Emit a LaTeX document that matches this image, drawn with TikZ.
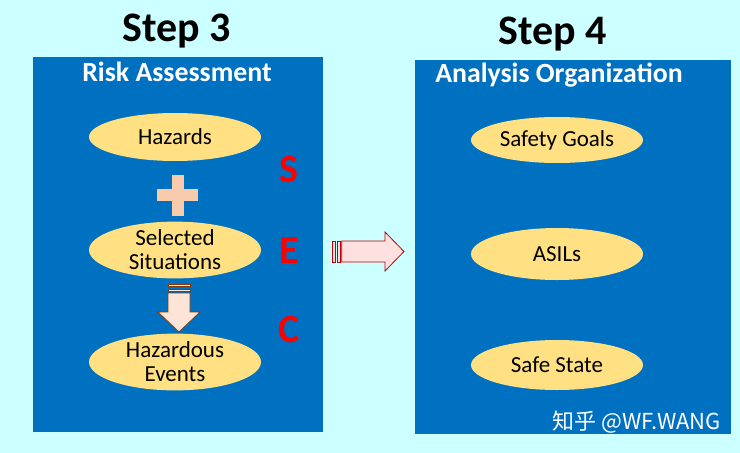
\documentclass[tikz,border=0pt]{standalone}
\usepackage{fontspec}
\setmainfont{Carlito}
\newfontfamily\cjkfont{Noto Sans CJK SC}
\usetikzlibrary{shapes.geometric}
\definecolor{bgcyan}{HTML}{CCFFFF}
\definecolor{panelblue}{HTML}{0070C0}
\definecolor{ovalyellow}{HTML}{FFE183}
\definecolor{peach}{HTML}{F8CBAD}
\definecolor{downfill}{HTML}{FCE4D6}
\definecolor{downedge}{HTML}{843C0C}
\definecolor{rightfill}{HTML}{FFE0E0}
\definecolor{rightedge}{HTML}{C00000}

\begin{document}
\begin{tikzpicture}[x=1pt,y=-1pt,
  oval/.style={ellipse, fill=ovalyellow, minimum width=172pt, minimum height=48pt,
    inner sep=0pt, align=center, font=\fontsize{23}{24}\selectfont},
  steptitle/.style={font=\fontsize{42}{42}\selectfont\bfseries},
  paneltitle/.style={font=\fontsize{27.8}{28}\selectfont\bfseries, text=white},
  letter/.style={font=\fontsize{40}{40}\selectfont\bfseries, text=red}]

  % background and panels
  \fill[bgcyan] (0,0) rectangle (740,453);
  \fill[panelblue] (33,57) rectangle (323,432);
  \fill[panelblue] (415,60) rectangle (731,434);

  % step 3
  \node[steptitle] (step3) at (177,31) {Step 3};
  \node[paneltitle] (risk) at (177,72) {Risk Assessment};
  \node[oval] (hazards) at (175,137) {Hazards};
  \node[oval, minimum height=52pt] (situations) at (175,250) {Selected\\Situations};
  \node[oval, minimum height=52pt] (events) at (175,362) {Hazardous\\Events};
  \node[letter] (sev) at (289,170) {S};
  \node[letter] (expo) at (289,251) {E};
  \node[letter] (ctrl) at (289,330) {C};

  % plus sign
  \coordinate (plus) at (177.5,195);
  \fill[peach] (plus) ++(-20.5,-6) rectangle ++(41,12);
  \fill[peach] (plus) ++(-6,-20.5) rectangle ++(12,41);

  % down arrow
  \filldraw[fill=downfill, draw=downedge, line width=0.8pt]
    (168,293) -- (190,293) -- (190,312) -- (200,312) -- (179,332)
    -- (158,312) -- (168,312) -- cycle;
  \filldraw[fill=downfill, draw=downedge, line width=0.8pt] (168,284) rectangle (190,286.5);
  \filldraw[fill=downfill, draw=downedge, line width=0.8pt] (168,289) rectangle (190,291.5);

  % right arrow
  \filldraw[fill=rightfill, draw=rightedge, line width=0.8pt]
    (341.7,241) -- (385,241) -- (385,232) -- (404,251.5) -- (385,271)
    -- (385,262) -- (341.7,262) -- cycle;
  \filldraw[fill=rightfill, draw=rightedge, line width=0.8pt] (332.3,241) rectangle (335,262);
  \filldraw[fill=rightfill, draw=rightedge, line width=0.8pt] (337.3,241) rectangle (340,262);

  % step 4
  \node[steptitle] (step4) at (553,34) {Step 4};
  \node[paneltitle] (analysis) at (559,75) {Analysis Organization};
  \node[oval, minimum height=46pt] (goals) at (557,140) {Safety Goals};
  \node[oval, minimum height=52pt] (asils) at (557,254) {ASILs};
  \node[oval, minimum height=50pt] (safestate) at (557,365) {Safe State};

  % watermark
  \node[font=\cjkfont\fontsize{22}{22}\selectfont, text=white, anchor=west]
    (mark) at (549,422) {知乎 @WF.WANG};
\end{tikzpicture}
\end{document}
